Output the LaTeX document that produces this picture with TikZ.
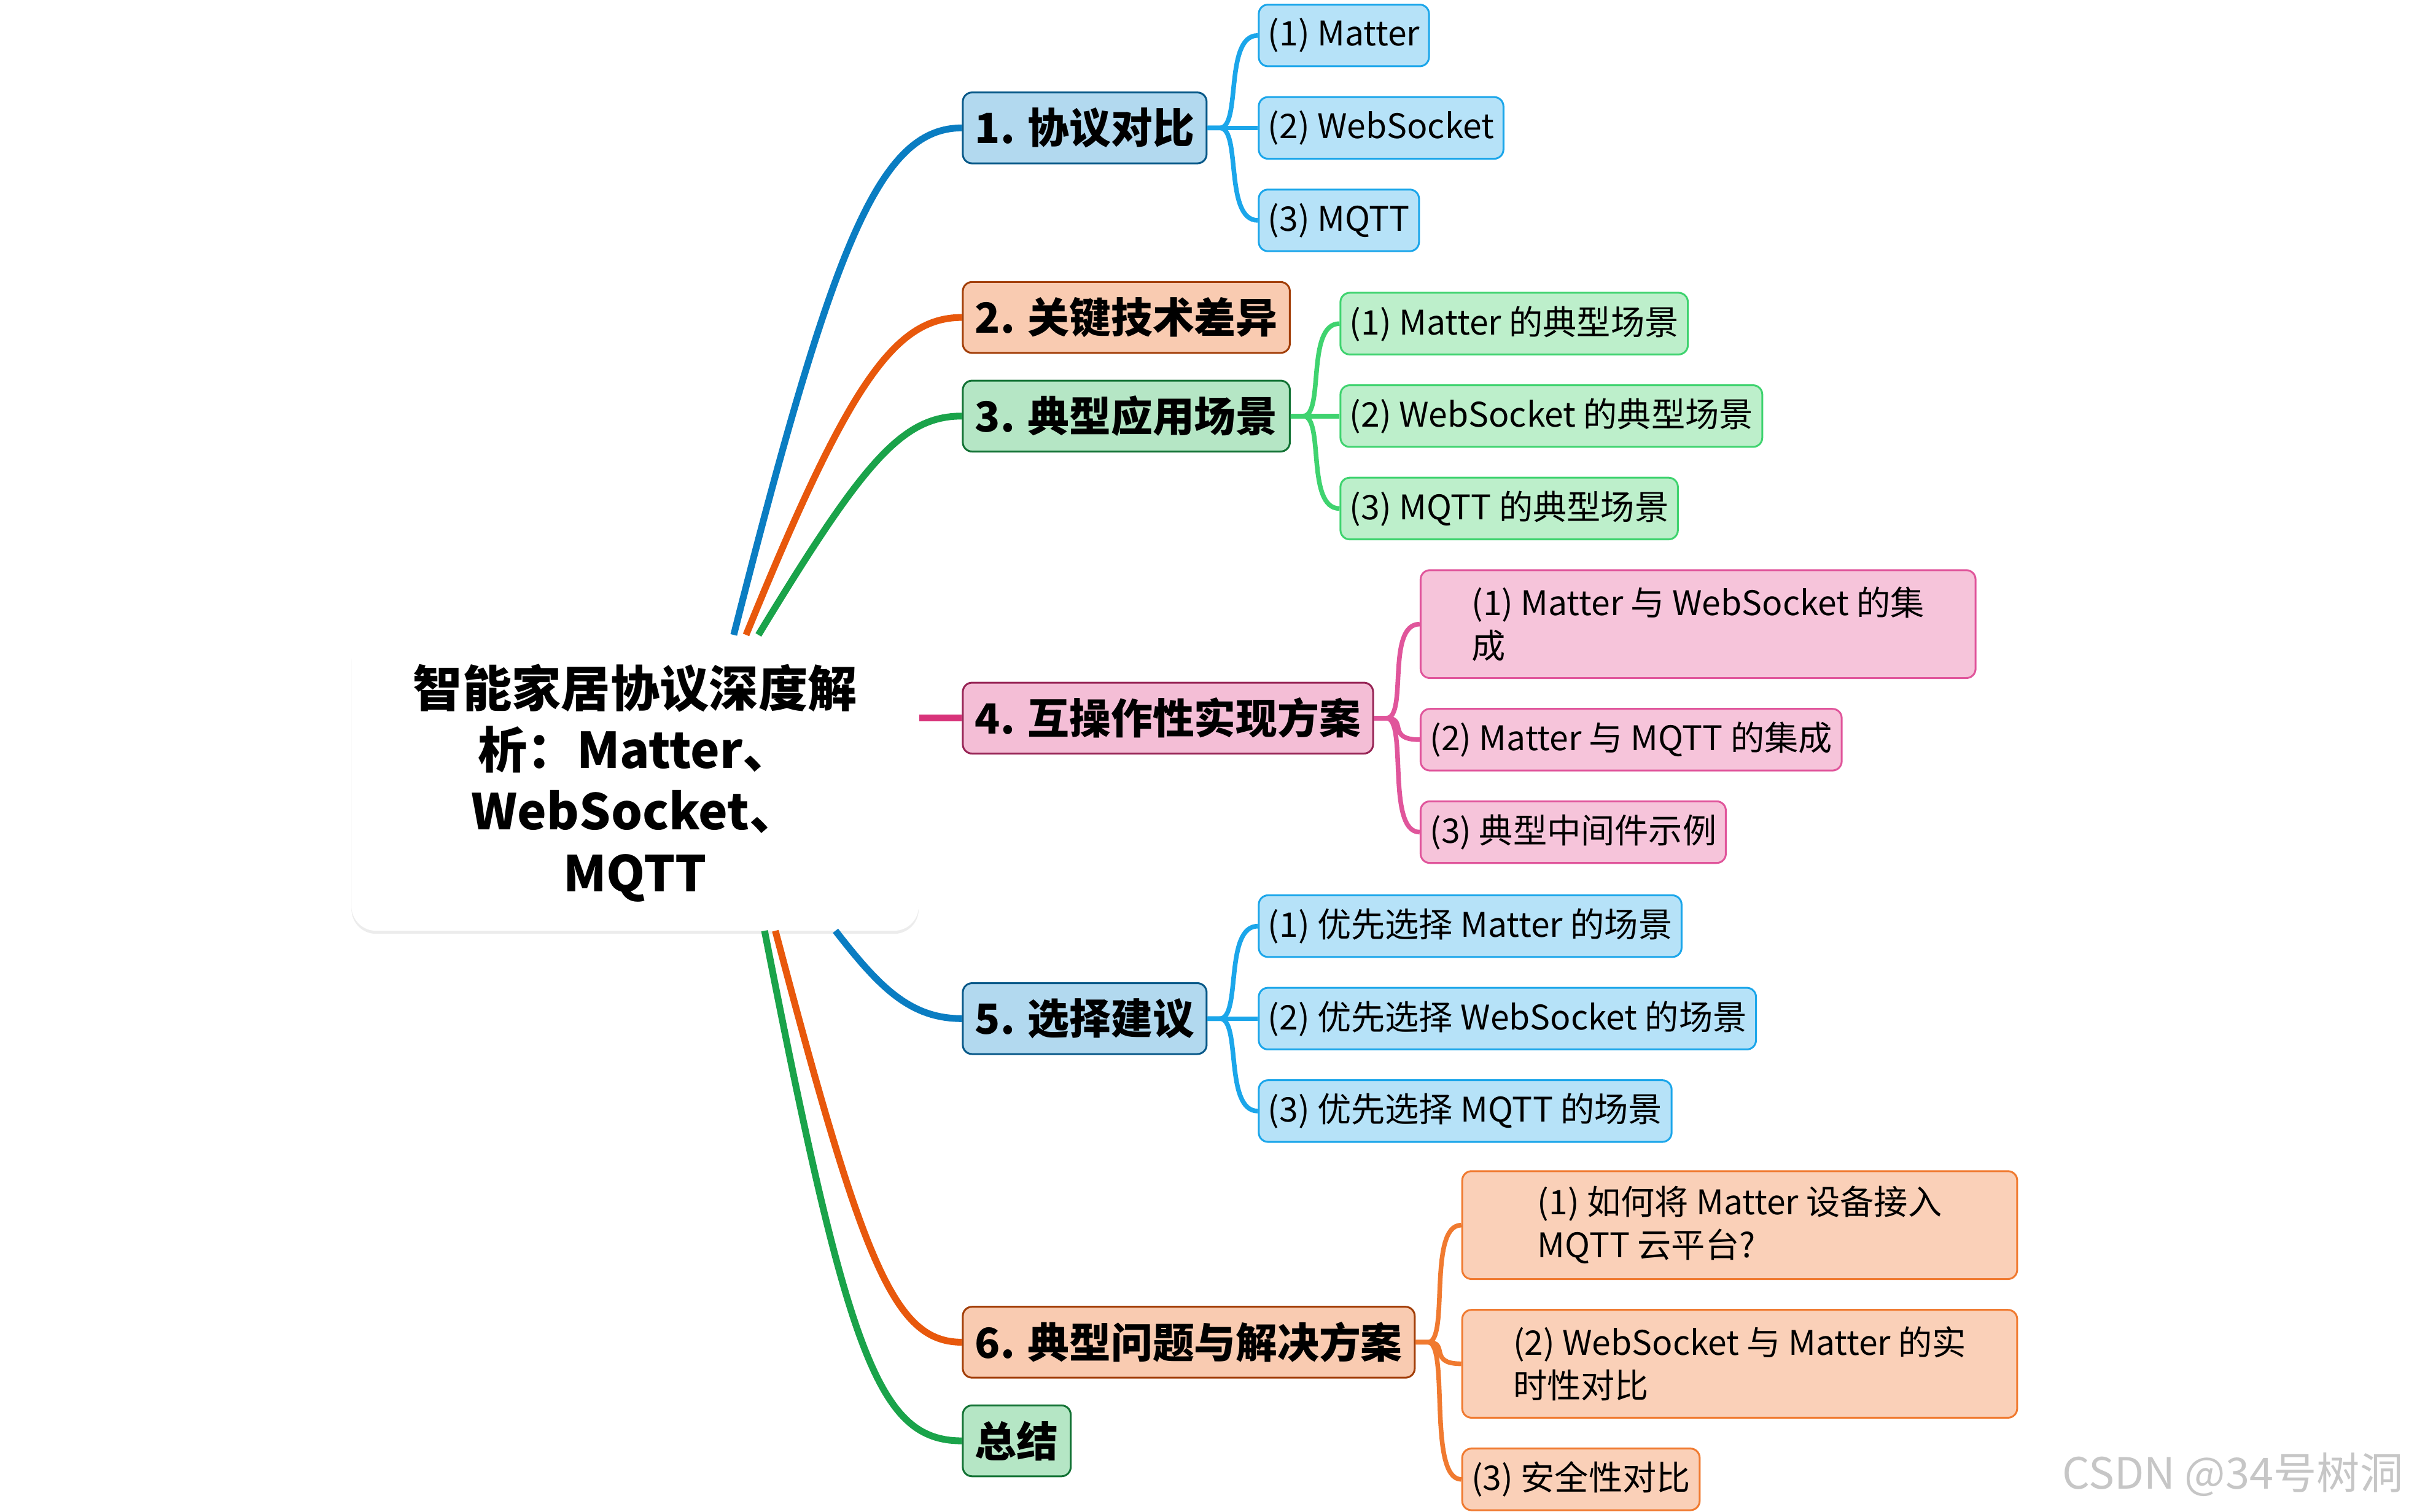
\documentclass[tikz,border=0pt]{standalone}
\usepackage{fontspec}
\setmainfont{Noto Sans CJK SC}
\usetikzlibrary{calc,shadows}
\definecolor{bB}{HTML}{0A7DC2}\definecolor{bO}{HTML}{E8580C}\definecolor{bG}{HTML}{1AA34A}\definecolor{bP}{HTML}{D8337A}
\definecolor{lB}{HTML}{1BA6EA}\definecolor{lO}{HTML}{F07A30}\definecolor{lG}{HTML}{3FD36F}\definecolor{lP}{HTML}{E0559B}
\definecolor{fB}{HTML}{B2D9EF}\definecolor{fO}{HTML}{F9CBB1}\definecolor{fG}{HTML}{B5E6C5}\definecolor{fP}{HTML}{F4BED6}
\definecolor{cB}{HTML}{B6E2F8}\definecolor{cO}{HTML}{FAD0B8}\definecolor{cG}{HTML}{BDEFCB}\definecolor{cP}{HTML}{F6C4DA}
\tikzset{
 main/.style={draw=b#1!70!black,fill=f#1,rounded corners=3pt,anchor=west,minimum height=23pt,inner xsep=4pt,font=\fontsize{13.5}{16}\selectfont\bfseries,line width=0.6pt},
 kid/.style={draw=l#1,fill=c#1,rounded corners=3pt,anchor=west,minimum height=20pt,inner xsep=3pt,font=\fontsize{11}{14}\selectfont,line width=0.6pt,align=left},
 br/.style={line width=2.2pt,draw=#1},
 lk/.style={line width=1.5pt,draw=#1}
}
\begin{document}
\begin{tikzpicture}[x=0.5pt,y=-0.5pt]
\useasboundingbox (0,0) rectangle (1568,981);
% root
\node[fill=white,rounded corners=8pt,minimum width=184pt,minimum height=96pt,drop shadow={opacity=0.15,shadow xshift=0pt,shadow yshift=-1pt},align=center,font=\fontsize{16}{20}\selectfont\bfseries] (root) at (412,508) {智能家居协议深度解\\析：Matter、\\WebSocket、\\MQTT};
% main nodes
\node[main=B] (m1) at (624,83) {1. 协议对比};
\node[main=O] (m2) at (624,206) {2. 关键技术差异};
\node[main=G] (m3) at (624,270) {3. 典型应用场景};
\node[main=P] (m4) at (624,466) {4. 互操作性实现方案};
\node[main=B] (m5) at (624,661) {5. 选择建议};
\node[main=O] (m6) at (624,871) {6. 典型问题与解决方案};
\node[main=G] (m7) at (624,935) {总结};
% children
\node[kid=B] (c11) at (816,23) {(1) Matter};
\node[kid=B] (c12) at (816,83) {(2) WebSocket};
\node[kid=B] (c13) at (816,143) {(3) MQTT};
\node[kid=G] (c31) at (869,210) {(1) Matter 的典型场景};
\node[kid=G] (c32) at (869,270) {(2) WebSocket 的典型场景};
\node[kid=G] (c33) at (869,330) {(3) MQTT 的典型场景};
\node[kid=P,minimum width=180pt,minimum height=35pt] (c41) at (921,405) {(1) Matter 与 WebSocket 的集\\成};
\node[kid=P] (c42) at (921,480) {(2) Matter 与 MQTT 的集成};
\node[kid=P] (c43) at (921,540) {(3) 典型中间件示例};
\node[kid=B] (c51) at (816,601) {(1) 优先选择 Matter 的场景};
\node[kid=B] (c52) at (816,661) {(2) 优先选择 WebSocket 的场景};
\node[kid=B] (c53) at (816,721) {(3) 优先选择 MQTT 的场景};
\node[kid=O,minimum width=180pt,minimum height=35pt] (c61) at (948,795) {(1) 如何将 Matter 设备接入\\MQTT 云平台?};
\node[kid=O,minimum width=180pt,minimum height=35pt] (c62) at (948,885) {(2) WebSocket 与 Matter 的实\\时性对比};
\node[kid=O] (c63) at (948,960) {(3) 安全性对比};
% root branches
\coordinate (r1) at (476,412);\coordinate (r2) at (484,412);\coordinate (r3) at (492,412);
\coordinate (r5) at (542,604);\coordinate (r6) at (503,604);\coordinate (r7) at (496,604);
\draw[br=bB] (r1) .. controls (540,160) and (570,83) .. (m1.west);
\draw[br=bO] (r2) .. controls (550,250) and (580,206) .. (m2.west);
\draw[br=bG] (r3) .. controls (560,300) and (585,270) .. (m3.west);
\draw[br=bP] (root.east|-m4.west) -- (m4.west);
\draw[br=bB] (r5) .. controls (570,640) and (590,661) .. (m5.west);
\draw[br=bO] (r6) .. controls (560,820) and (580,871) .. (m6.west);
\draw[br=bG] (r7) .. controls (550,880) and (570,935) .. (m7.west);
% child links
\foreach \m/\c/\k in {m1/c11/lB,m1/c12/lB,m1/c13/lB,m3/c31/lG,m3/c32/lG,m3/c33/lG,m4/c41/lP,m4/c42/lP,m4/c43/lP,m5/c51/lB,m5/c52/lB,m5/c53/lB,m6/c61/lO,m6/c62/lO,m6/c63/lO}{
 \draw[lk=\k] (\m.east) -- ($(\m.east)+(8,0)$) .. controls ($(\m.east)+(22,0)$) and ($(\c.west)+(-22,0)$) .. (\c.west);
}
\node[text=gray!45,font=\fontsize{14}{16}\selectfont,anchor=east] (wm) at (1566,957) {CSDN @34号树洞};
\end{tikzpicture}
\end{document}
